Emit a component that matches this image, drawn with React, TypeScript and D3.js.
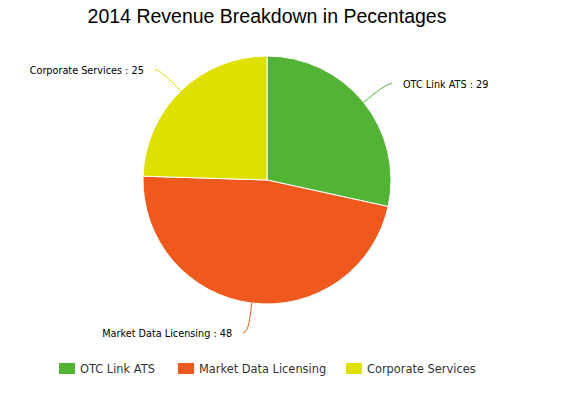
import React from "react";
import * as d3 from "d3";

const categories = ["OTC Link ATS", "Market Data Licensing", "Corporate Services"];
const values = [29, 48, 25];
const colors = ["#52b335", "#ef591e", "#dde000"];
const title = "2014 Revenue Breakdown in Pecentages";

const W = 563;
const H = 396;
const cx = 267;
const cy = 180;
const radius = 124;

const App = () => {
  const pie = d3.pie<number>().sort(null).value((d) => d);
  const arcs = pie(values);
  const arcGen = d3.arc<d3.PieArcDatum<number>>().innerRadius(0).outerRadius(radius);

  const pt = (a: number, r: number) => [Math.sin(a) * r, -Math.cos(a) * r];

  // legend layout
  const legendX = [59, 178, 346];

  return (
    <svg width={W} height={H} style={{ position: "absolute", left: 0, top: 0, background: "#fff" }}>
      <text
        x={cx}
        y={23}
        textAnchor="middle"
        fontFamily="'Liberation Sans', Arial, sans-serif"
        fontSize={19.5}
        fill="#000"
      >
        {title}
      </text>
      <g transform={`translate(${cx},${cy})`}>
        {arcs.map((a, i) => (
          <path key={i} d={arcGen(a) || ""} fill={colors[i]} stroke="#fff" strokeWidth={1} strokeLinejoin="round" />
        ))}
        {arcs.map((a, i) => {
          const mid = (a.startAngle + a.endAngle) / 2;
          const right = Math.sin(mid) >= 0;
          const s = right ? 1 : -1;
          const [ex, ey] = pt(mid, radius);
          const [mx, my] = pt(mid, radius + 12);
          const [px, py] = pt(mid, radius + 30);
          const endX = px + s * 5;
          const path = `M${endX},${py} Q${px},${py} ${mx},${my} L${ex},${ey}`;
          return (
            <g key={"l" + i}>
              <path d={path} fill="none" stroke={colors[i]} strokeWidth={1} />
              <text
                x={endX + s * 11}
                y={py + 4.5}
                textAnchor={right ? "start" : "end"}
                fontFamily="'DejaVu Sans', Verdana, sans-serif"
                fontSize={9.7}
                fill="#000"
              >
                {`${categories[i]} : ${values[i]}`}
              </text>
            </g>
          );
        })}
      </g>
      <g>
        {categories.map((c, i) => (
          <g key={c}>
            <rect x={legendX[i]} y={363} width={16} height={11} fill={colors[i]} />
            <text
              x={legendX[i] + 21}
              y={373}
              fontFamily="'DejaVu Sans', Verdana, sans-serif"
              fontSize={11.4}
              fill="#333"
            >
              {c}
            </text>
          </g>
        ))}
      </g>
    </svg>
  );
};

export default App;
